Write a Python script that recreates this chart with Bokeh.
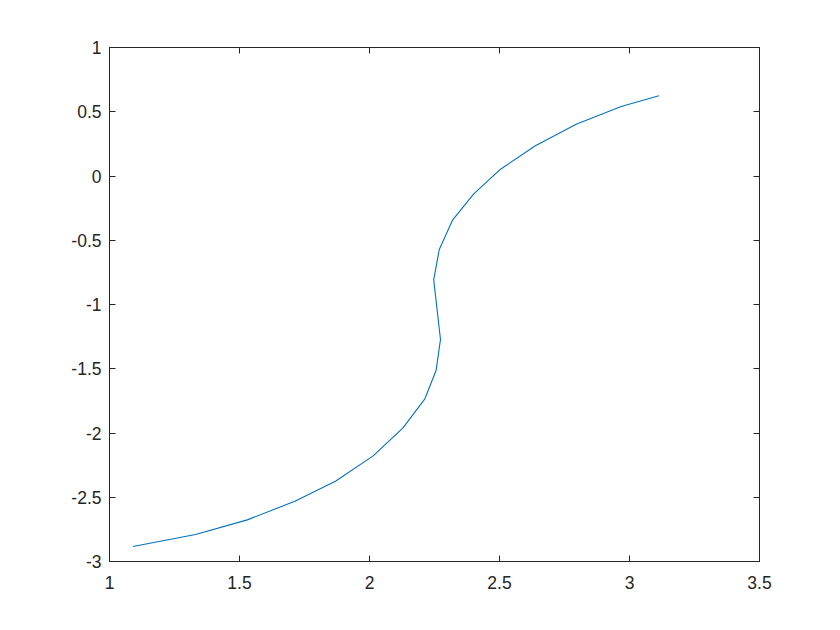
from bokeh.plotting import figure
from bokeh.models import LinearAxis, FixedTicker, Range1d, CustomJSTickFormatter
from bokeh.embed import file_html
from bokeh.resources import INLINE

x_vals = [1.090, 1.331, 1.530, 1.713, 1.869, 2.014, 2.128, 2.213, 2.256, 2.273,
          2.247, 2.268, 2.320, 2.401, 2.504, 2.638, 2.795, 2.968, 3.113]
y_vals = [-2.883, -2.790, -2.676, -2.531, -2.375, -2.178, -1.962, -1.734, -1.514, -1.272,
          -0.808, -0.574, -0.341, -0.139, 0.053, 0.235, 0.403, 0.541, 0.624]
x_ticks = [1, 1.5, 2, 2.5, 3, 3.5]
y_ticks = [-3, -2.5, -2, -1.5, -1, -0.5, 0, 0.5, 1]

AX = "#262626"
FONT = "Liberation Sans"

p = figure(frame_width=650, frame_height=514, output_backend="svg", toolbar_location=None,
           x_range=Range1d(1, 3.5), y_range=Range1d(-3, 1),
           min_border_left=109, min_border_right=61, min_border_top=47, min_border_bottom=57,
           x_axis_location=None, y_axis_location=None)
p.xgrid.visible = False
p.ygrid.visible = False
p.outline_line_color = AX
p.outline_line_width = 1
p.background_fill_color = "white"
p.border_fill_color = "white"

p.line(x_vals, y_vals, line_color="#0072BD", line_width=1.1)

def make_axis(ticks, show_labels, standoff):
    ax = LinearAxis(ticker=FixedTicker(ticks=ticks))
    ax.axis_line_color = AX
    ax.major_tick_line_color = AX
    ax.major_tick_in = 6
    ax.major_tick_out = 0
    ax.minor_tick_line_color = None
    ax.major_label_text_font = FONT
    ax.major_label_text_color = AX
    ax.major_label_text_font_size = "17.5px"
    ax.major_label_standoff = standoff
    if show_labels:
        ax.formatter = CustomJSTickFormatter(code="return String(tick);")
    else:
        ax.formatter = CustomJSTickFormatter(code="return '';")
    return ax

p.add_layout(make_axis(x_ticks, True, 14), "below")
p.add_layout(make_axis(y_ticks, True, 8), "left")
p.add_layout(make_axis(x_ticks, False, 0), "above")
p.add_layout(make_axis(y_ticks, False, 0), "right")

open("out.html", "w").write(file_html(p, INLINE))
